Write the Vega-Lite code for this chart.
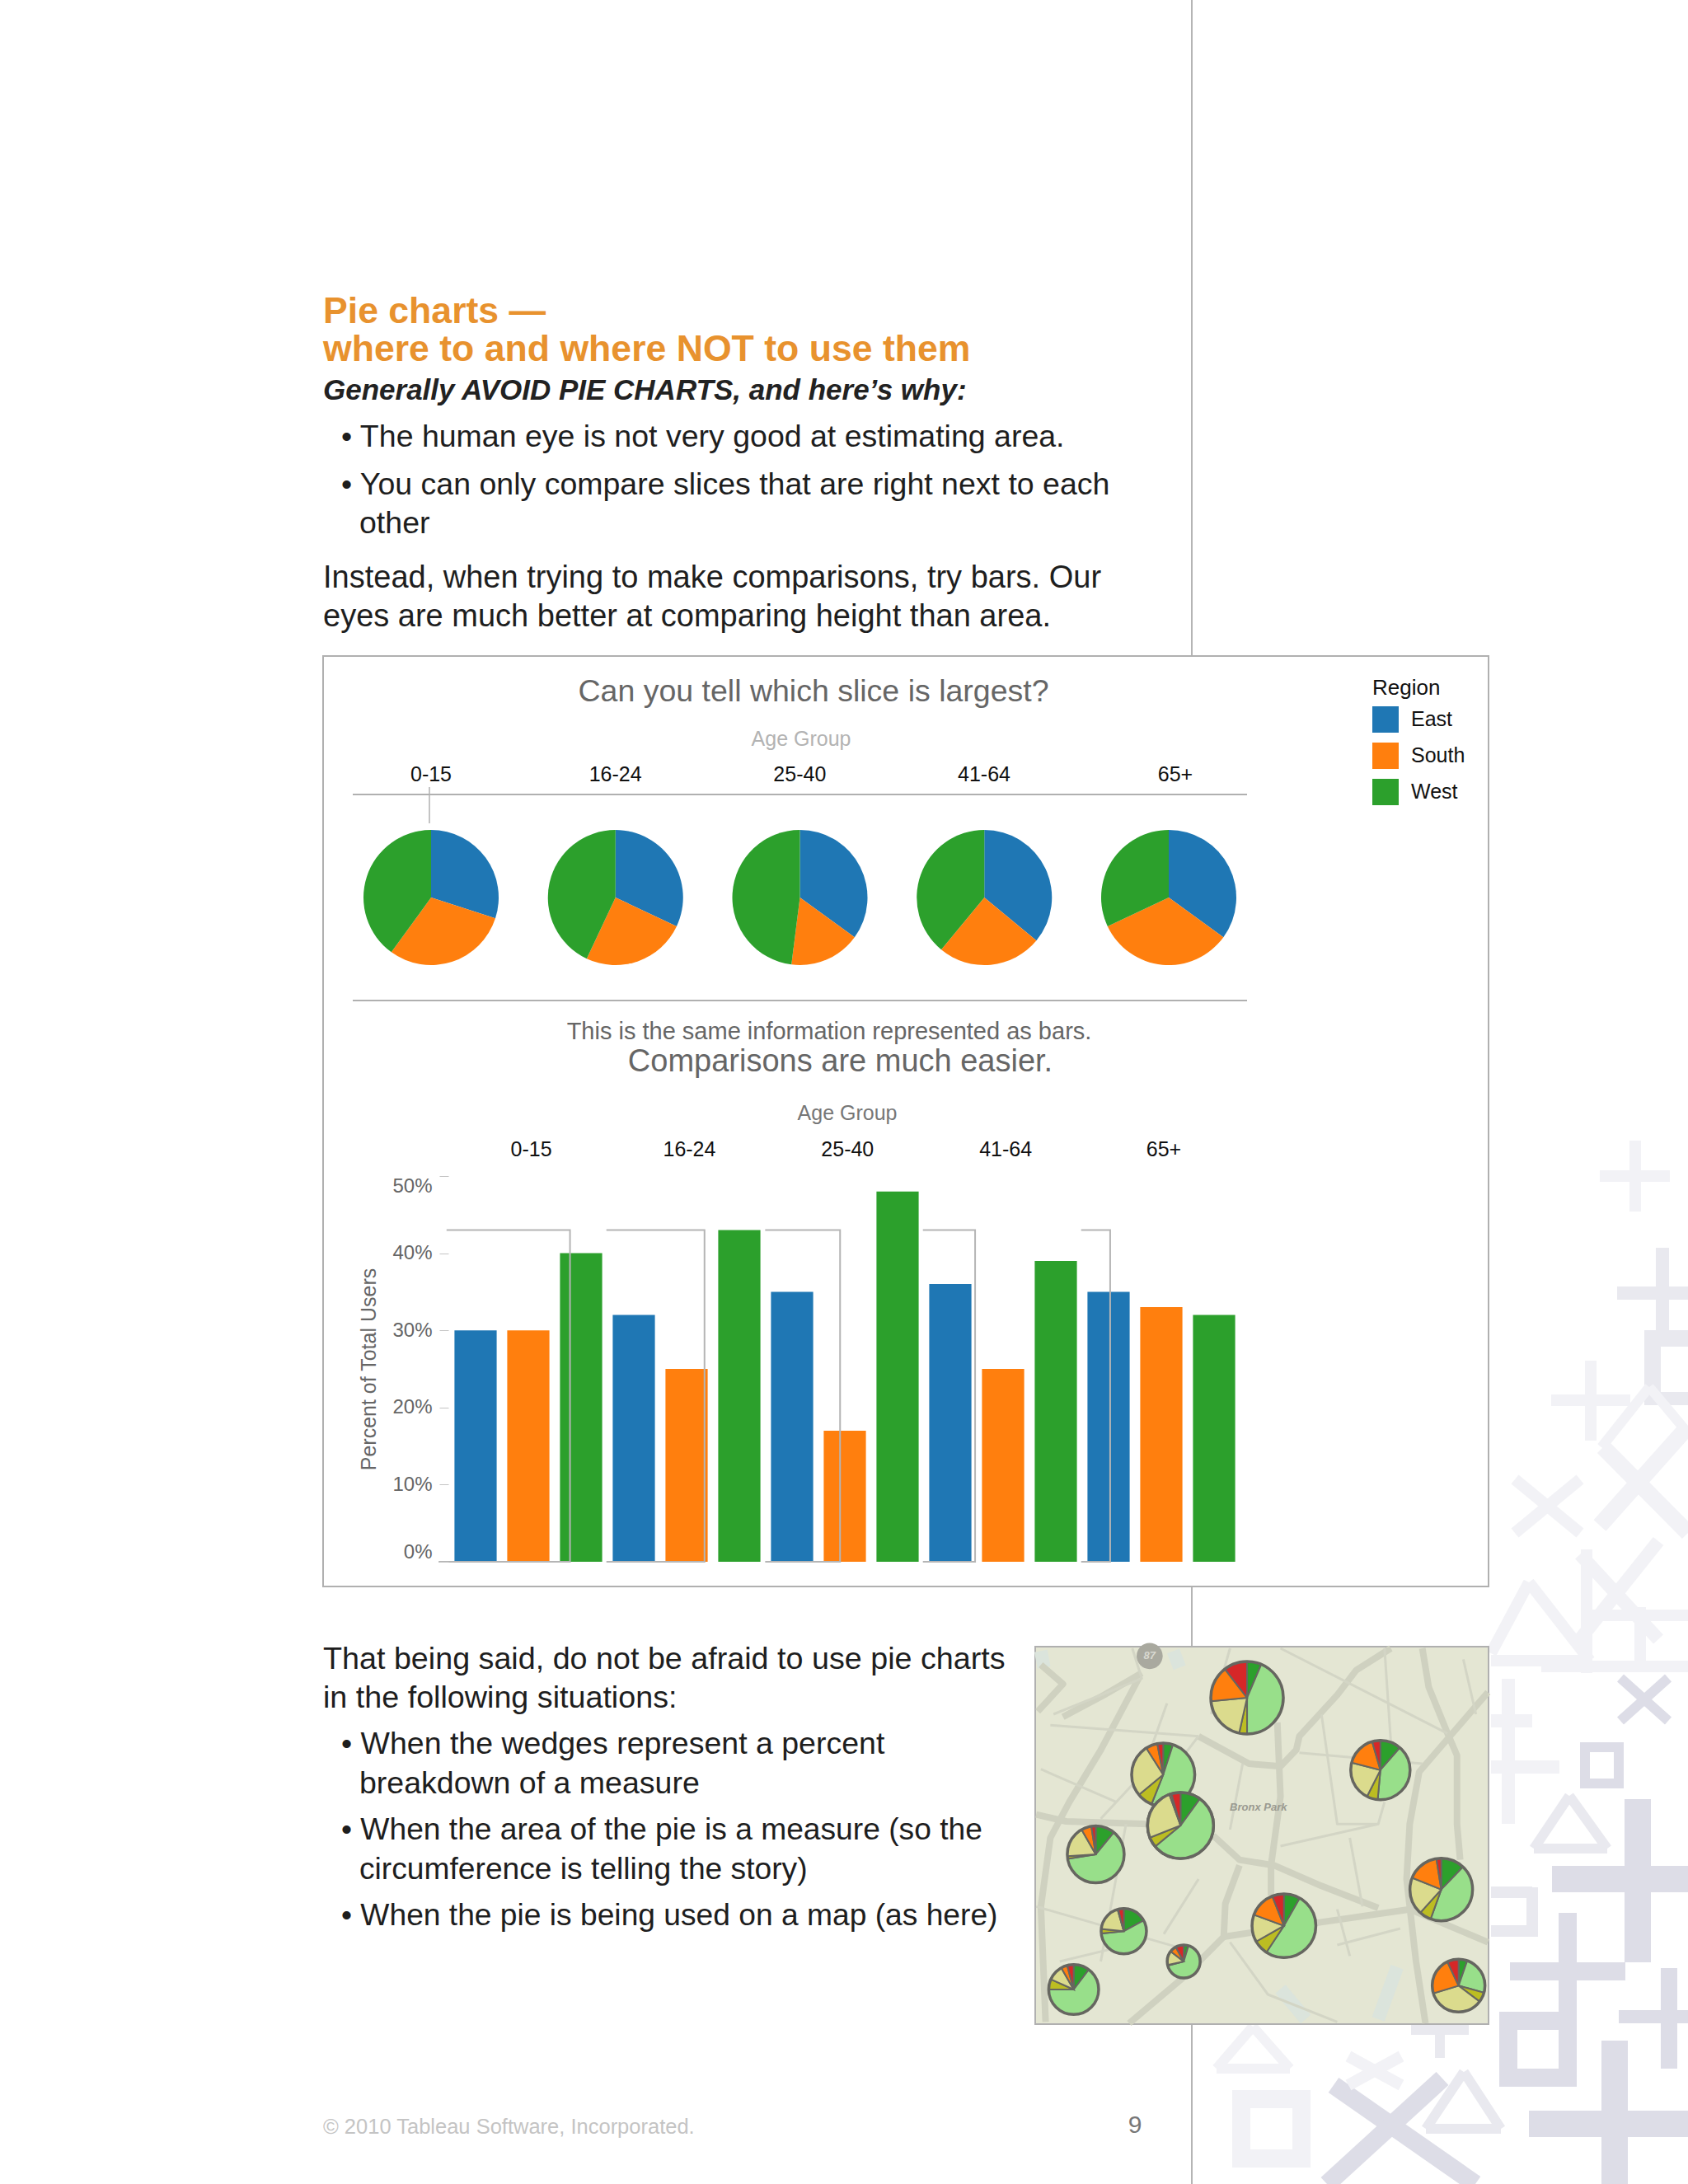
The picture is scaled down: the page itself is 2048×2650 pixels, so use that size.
{
"$schema":"https://vega.github.io/schema/vega-lite/v6.json",
"width":2048,"height":2650,"padding":0,"autosize":{"type":"none"},"background":"white",
"config":{"view":{"stroke":null},"font":"Liberation Sans"},
"resolve":{"scale":{"x":"independent","y":"independent","color":"independent","theta":"independent","radius":"independent","size":"independent","strokeWidth":"independent"},"axis":{"x":"independent","y":"independent"},"legend":{"color":"independent","size":"independent","strokeWidth":"independent"}},
"datasets":{
"users":[
{"slot":1,"age":"0-15","region":"East","pct":30},{"slot":2,"age":"0-15","region":"South","pct":30},{"slot":3,"age":"0-15","region":"West","pct":40},
{"slot":4,"age":"16-24","region":"East","pct":32},{"slot":5,"age":"16-24","region":"South","pct":25},{"slot":6,"age":"16-24","region":"West","pct":43},
{"slot":7,"age":"25-40","region":"East","pct":35},{"slot":8,"age":"25-40","region":"South","pct":17},{"slot":9,"age":"25-40","region":"West","pct":48},
{"slot":10,"age":"41-64","region":"East","pct":36},{"slot":11,"age":"41-64","region":"South","pct":25},{"slot":12,"age":"41-64","region":"West","pct":39},
{"slot":13,"age":"65+","region":"East","pct":35},{"slot":14,"age":"65+","region":"South","pct":33},{"slot":15,"age":"65+","region":"West","pct":32}],
"ages":[{"age":"0-15"},{"age":"16-24"},{"age":"25-40"},{"age":"41-64"},{"age":"65+"}],
"prose":[
{"para":"heading","line":1,"indent":"flush","text":"Pie charts —"},
{"para":"heading","line":2,"indent":"flush","text":"where to and where NOT to use them"},
{"para":"sub","line":1,"indent":"flush","text":"Generally AVOID PIE CHARTS, and here’s why:"},
{"para":"b1","line":1,"indent":"bullet","text":"• The human eye is not very good at estimating area."},
{"para":"b2","line":1,"indent":"bullet","text":"• You can only compare slices that are right next to each"},
{"para":"b2","line":2,"indent":"hang","text":"other"},
{"para":"p1","line":1,"indent":"flush","text":"Instead, when trying to make comparisons, try bars. Our"},
{"para":"p1","line":2,"indent":"flush","text":"eyes are much better at comparing height than area."},
{"para":"p2","line":1,"indent":"flush","text":"That being said, do not be afraid to use pie charts"},
{"para":"p2","line":2,"indent":"flush","text":"in the following situations:"},
{"para":"b3","line":1,"indent":"bullet","text":"• When the wedges represent a percent"},
{"para":"b3","line":2,"indent":"hang","text":"breakdown of a measure"},
{"para":"b4","line":1,"indent":"bullet","text":"• When the area of the pie is a measure (so the"},
{"para":"b4","line":2,"indent":"hang","text":"circumference is telling the story)"},
{"para":"b5","line":1,"indent":"bullet","text":"• When the pie is being used on a map (as here)"},
{"para":"foot","line":1,"indent":"flush","text":"© 2010 Tableau Software, Incorporated."}],
"brackets":[
{"age":"0-15","step":1,"slotPos":-0.05,"pct":43},{"age":"0-15","step":2,"slotPos":2.29,"pct":43},{"age":"0-15","step":3,"slotPos":2.29,"pct":0},{"age":"0-15","step":4,"slotPos":-0.2,"pct":0},
{"age":"16-24","step":1,"slotPos":2.98,"pct":43},{"age":"16-24","step":2,"slotPos":4.84,"pct":43},{"age":"16-24","step":3,"slotPos":4.84,"pct":0},{"age":"16-24","step":4,"slotPos":2.98,"pct":0},
{"age":"25-40","step":1,"slotPos":5.99,"pct":43},{"age":"25-40","step":2,"slotPos":7.41,"pct":43},{"age":"25-40","step":3,"slotPos":7.41,"pct":0},{"age":"25-40","step":4,"slotPos":5.99,"pct":0},
{"age":"41-64","step":1,"slotPos":8.98,"pct":43},{"age":"41-64","step":2,"slotPos":9.97,"pct":43},{"age":"41-64","step":3,"slotPos":9.97,"pct":0},{"age":"41-64","step":4,"slotPos":8.98,"pct":0},
{"age":"65+","step":1,"slotPos":11.98,"pct":43},{"age":"65+","step":2,"slotPos":12.53,"pct":43},{"age":"65+","step":3,"slotPos":12.53,"pct":0},{"age":"65+","step":4,"slotPos":11.98,"pct":0}],
"sites":[
{"site":1,"mx":714,"my":240,"users":1936},{"site":2,"mx":448,"my":520,"users":1467},{"site":3,"mx":503,"my":705,"users":1600},{"site":4,"mx":1137,"my":503,"users":1296},
{"site":5,"mx":234,"my":810,"users":1190},{"site":6,"mx":1330,"my":938,"users":1444},{"site":7,"mx":831,"my":1070,"users":1498},{"site":8,"mx":323,"my":1090,"users":756},
{"site":9,"mx":513,"my":1200,"users":400},{"site":10,"mx":164,"my":1302,"users":918},{"site":11,"mx":1385,"my":1288,"users":1024}],
"wedges":[
{"site":1,"wedge":"w1","share":6.4},{"site":1,"wedge":"w2","share":43.6},{"site":1,"wedge":"w3","share":3.5},{"site":1,"wedge":"w4","share":20},{"site":1,"wedge":"w5","share":16},{"site":1,"wedge":"w6","share":10.5},
{"site":2,"wedge":"w1","share":5},{"site":2,"wedge":"w2","share":51},{"site":2,"wedge":"w3","share":8},{"site":2,"wedge":"w4","share":27},{"site":2,"wedge":"w5","share":6},{"site":2,"wedge":"w6","share":3},
{"site":3,"wedge":"w1","share":10},{"site":3,"wedge":"w2","share":54},{"site":3,"wedge":"w3","share":5},{"site":3,"wedge":"w4","share":25.5},{"site":3,"wedge":"w5","share":1},{"site":3,"wedge":"w6","share":4.5},
{"site":4,"wedge":"w1","share":11.4},{"site":4,"wedge":"w2","share":40},{"site":4,"wedge":"w3","share":6},{"site":4,"wedge":"w4","share":21.5},{"site":4,"wedge":"w5","share":16.5},{"site":4,"wedge":"w6","share":4.5},
{"site":5,"wedge":"w1","share":11},{"site":5,"wedge":"w2","share":61.5},{"site":5,"wedge":"w3","share":1.5},{"site":5,"wedge":"w4","share":17.7},{"site":5,"wedge":"w5","share":5.8},{"site":5,"wedge":"w6","share":2.5},
{"site":6,"wedge":"w1","share":12.2},{"site":6,"wedge":"w2","share":43.3},{"site":6,"wedge":"w3","share":6.2},{"site":6,"wedge":"w4","share":19.4},{"site":6,"wedge":"w5","share":16.4},{"site":6,"wedge":"w6","share":2.5},
{"site":7,"wedge":"w1","share":8.3},{"site":7,"wedge":"w2","share":51},{"site":7,"wedge":"w3","share":7.5},{"site":7,"wedge":"w4","share":13.8},{"site":7,"wedge":"w5","share":13.4},{"site":7,"wedge":"w6","share":6},
{"site":8,"wedge":"w1","share":17},{"site":8,"wedge":"w2","share":56.4},{"site":8,"wedge":"w3","share":3.2},{"site":8,"wedge":"w4","share":19},{"site":8,"wedge":"w5","share":0.4},{"site":8,"wedge":"w6","share":4},
{"site":9,"wedge":"w1","share":4.7},{"site":9,"wedge":"w2","share":66.3},{"site":9,"wedge":"w3","share":0.7},{"site":9,"wedge":"w4","share":13.8},{"site":9,"wedge":"w5","share":6.5},{"site":9,"wedge":"w6","share":8},
{"site":10,"wedge":"w1","share":10.3},{"site":10,"wedge":"w2","share":64.7},{"site":10,"wedge":"w3","share":6.7},{"site":10,"wedge":"w4","share":10},{"site":10,"wedge":"w5","share":4.1},{"site":10,"wedge":"w6","share":4.2},
{"site":11,"wedge":"w1","share":5.3},{"site":11,"wedge":"w2","share":24},{"site":11,"wedge":"w3","share":6},{"site":11,"wedge":"w4","share":35},{"site":11,"wedge":"w5","share":22.7},{"site":11,"wedge":"w6","share":7}],
"roads":[
{"road":"w1","kind":"water","step":1,"mx":60,"my":70},{"road":"w1","kind":"water","step":2,"mx":70,"my":130},
{"road":"w2","kind":"water","step":1,"mx":820,"my":1300},{"road":"w2","kind":"water","step":2,"mx":900,"my":1410},
{"road":"w3","kind":"water","step":1,"mx":1190,"my":1220},{"road":"w3","kind":"water","step":2,"mx":1130,"my":1410},
{"road":"w4","kind":"water","step":1,"mx":480,"my":70},{"road":"w4","kind":"water","step":2,"mx":500,"my":130},
{"road":"r1","kind":"major","step":1,"mx":45,"my":665},{"road":"r1","kind":"major","step":2,"mx":140,"my":690},{"road":"r1","kind":"major","step":3,"mx":400,"my":700},{"road":"r1","kind":"major","step":4,"mx":610,"my":745},{"road":"r1","kind":"major","step":5,"mx":690,"my":830},{"road":"r1","kind":"major","step":6,"mx":800,"my":850},{"road":"r1","kind":"major","step":7,"mx":950,"my":925},{"road":"r1","kind":"major","step":8,"mx":1130,"my":1005},
{"road":"r2","kind":"major","step":1,"mx":640,"my":1110},{"road":"r2","kind":"major","step":2,"mx":930,"my":1060},{"road":"r2","kind":"major","step":3,"mx":1230,"my":1010},{"road":"r2","kind":"major","step":4,"mx":1478,"my":1130},
{"road":"r3","kind":"major","step":1,"mx":510,"my":1260},{"road":"r3","kind":"major","step":2,"mx":640,"my":1110},{"road":"r3","kind":"major","step":3,"mx":645,"my":990},{"road":"r3","kind":"major","step":4,"mx":690,"my":850},
{"road":"r4","kind":"major","step":1,"mx":810,"my":330},{"road":"r4","kind":"major","step":2,"mx":820,"my":600},{"road":"r4","kind":"major","step":3,"mx":790,"my":850},{"road":"r4","kind":"major","step":4,"mx":790,"my":960},
{"road":"r5","kind":"major","step":1,"mx":60,"my":1000},{"road":"r5","kind":"major","step":2,"mx":90,"my":750},{"road":"r5","kind":"major","step":3,"mx":150,"my":620},{"road":"r5","kind":"major","step":4,"mx":250,"my":430},{"road":"r5","kind":"major","step":5,"mx":370,"my":170},
{"road":"r6","kind":"major","step":1,"mx":60,"my":1000},{"road":"r6","kind":"major","step":2,"mx":75,"my":1420},
{"road":"r7","kind":"major","step":1,"mx":560,"my":380},{"road":"r7","kind":"major","step":2,"mx":720,"my":480},{"road":"r7","kind":"major","step":3,"mx":820,"my":490},{"road":"r7","kind":"major","step":4,"mx":870,"my":430},{"road":"r7","kind":"major","step":5,"mx":880,"my":380},{"road":"r7","kind":"major","step":6,"mx":1000,"my":230},{"road":"r7","kind":"major","step":7,"mx":1060,"my":140},{"road":"r7","kind":"major","step":8,"mx":1170,"my":60},
{"road":"r8","kind":"major","step":1,"mx":1270,"my":60},{"road":"r8","kind":"major","step":2,"mx":1290,"my":200},{"road":"r8","kind":"major","step":3,"mx":1350,"my":370},{"road":"r8","kind":"major","step":4,"mx":1380,"my":450},{"road":"r8","kind":"major","step":5,"mx":1380,"my":700},{"road":"r8","kind":"major","step":6,"mx":1390,"my":830},
{"road":"r9","kind":"major","step":1,"mx":1478,"my":220},{"road":"r9","kind":"major","step":2,"mx":1350,"my":390},{"road":"r9","kind":"major","step":3,"mx":1260,"my":510},{"road":"r9","kind":"major","step":4,"mx":1230,"my":700},{"road":"r9","kind":"major","step":5,"mx":1220,"my":900},{"road":"r9","kind":"major","step":6,"mx":1250,"my":1200},{"road":"r9","kind":"major","step":7,"mx":1280,"my":1425},
{"road":"r10","kind":"major","step":1,"mx":510,"my":1260},{"road":"r10","kind":"major","step":2,"mx":340,"my":1425},
{"road":"r11","kind":"major","step":1,"mx":50,"my":290},{"road":"r11","kind":"major","step":2,"mx":130,"my":190},{"road":"r11","kind":"major","step":3,"mx":60,"my":120},
{"road":"r12","kind":"major","step":1,"mx":130,"my":310},{"road":"r12","kind":"major","step":2,"mx":260,"my":230},{"road":"r12","kind":"major","step":3,"mx":380,"my":150},
{"road":"m1","kind":"minor","step":1,"mx":100,"my":300},{"road":"m1","kind":"minor","step":2,"mx":380,"my":170},{"road":"m1","kind":"minor","step":3,"mx":350,"my":60},
{"road":"m2","kind":"minor","step":1,"mx":560,"my":380},{"road":"m2","kind":"minor","step":2,"mx":480,"my":500},{"road":"m2","kind":"minor","step":3,"mx":400,"my":720},
{"road":"m3","kind":"minor","step":1,"mx":90,"my":340},{"road":"m3","kind":"minor","step":2,"mx":560,"my":380},
{"road":"m4","kind":"minor","step":1,"mx":880,"my":440},{"road":"m4","kind":"minor","step":2,"mx":1270,"my":480},
{"road":"m5","kind":"minor","step":1,"mx":820,"my":780},{"road":"m5","kind":"minor","step":2,"mx":1130,"my":700},{"road":"m5","kind":"minor","step":3,"mx":1150,"my":620},
{"road":"m6","kind":"minor","step":1,"mx":950,"my":300},{"road":"m6","kind":"minor","step":2,"mx":1000,"my":700},{"road":"m6","kind":"minor","step":3,"mx":1130,"my":700},
{"road":"m7","kind":"minor","step":1,"mx":1040,"my":750},{"road":"m7","kind":"minor","step":2,"mx":1080,"my":1000},
{"road":"m8","kind":"minor","step":1,"mx":700,"my":480},{"road":"m8","kind":"minor","step":2,"mx":660,"my":720},
{"road":"m9","kind":"minor","step":1,"mx":45,"my":1000},{"road":"m9","kind":"minor","step":2,"mx":500,"my":1150},
{"road":"m10","kind":"minor","step":1,"mx":250,"my":1200},{"road":"m10","kind":"minor","step":2,"mx":330,"my":700},
{"road":"m11","kind":"minor","step":1,"mx":820,"my":60},{"road":"m11","kind":"minor","step":2,"mx":1350,"my":370},
{"road":"m12","kind":"minor","step":1,"mx":660,"my":1130},{"road":"m12","kind":"minor","step":2,"mx":780,"my":1320},{"road":"m12","kind":"minor","step":3,"mx":1000,"my":1420},
{"road":"m13","kind":"minor","step":1,"mx":1150,"my":60},{"road":"m13","kind":"minor","step":2,"mx":1170,"my":400},
{"road":"m14","kind":"minor","step":1,"mx":460,"my":260},{"road":"m14","kind":"minor","step":2,"mx":380,"my":520},{"road":"m14","kind":"minor","step":3,"mx":250,"my":680},
{"road":"m15","kind":"minor","step":1,"mx":660,"my":60},{"road":"m15","kind":"minor","step":2,"mx":600,"my":300},
{"road":"m16","kind":"minor","step":1,"mx":60,"my":500},{"road":"m16","kind":"minor","step":2,"mx":300,"my":620},
{"road":"m17","kind":"minor","step":1,"mx":1000,"my":1140},{"road":"m17","kind":"minor","step":2,"mx":1200,"my":1080},
{"road":"m18","kind":"minor","step":1,"mx":300,"my":1150},{"road":"m18","kind":"minor","step":2,"mx":120,"my":1200},
{"road":"m19","kind":"minor","step":1,"mx":1040,"my":1180},{"road":"m19","kind":"minor","step":2,"mx":1000,"my":1010},
{"road":"m20","kind":"minor","step":1,"mx":560,"my":900},{"road":"m20","kind":"minor","step":2,"mx":450,"my":1100},
{"road":"m21","kind":"minor","step":1,"mx":1400,"my":100},{"road":"m21","kind":"minor","step":2,"mx":1440,"my":300}],
"decor":[
{"x":1941,"y":1427,"x2":2026,"y2":1427,"w":"b","s":"pale"},{"x":1984,"y":1384,"x2":1984,"y2":1470,"w":"b","s":"pale"},
{"x":1962,"y":1569,"x2":2048,"y2":1569,"w":"c","s":"soft"},{"x":2017,"y":1514,"x2":2017,"y2":1620,"w":"c","s":"soft"},
{"x":2005,"y":1614,"x2":2005,"y2":1705,"w":"d","s":"soft"},{"x":1995,"y":1624,"x2":2048,"y2":1624,"w":"d","s":"soft"},{"x":1995,"y":1697,"x2":2048,"y2":1697,"w":"c","s":"soft"},
{"x":1882,"y":1699,"x2":1978,"y2":1699,"w":"b","s":"pale"},{"x":1930,"y":1651,"x2":1930,"y2":1748,"w":"b","s":"pale"},
{"x":2001,"y":1683,"x2":1943,"y2":1756,"w":"a","s":"pale"},{"x":2001,"y":1683,"x2":2048,"y2":1739,"w":"a","s":"pale"},
{"x":1941,"y":1851,"x2":2048,"y2":1731,"w":"d","s":"pale"},{"x":1945,"y":1756,"x2":2048,"y2":1860,"w":"d","s":"pale"},
{"x":1838,"y":1795,"x2":1917,"y2":1860,"w":"b","s":"pale"},{"x":1838,"y":1860,"x2":1917,"y2":1795,"w":"b","s":"pale"},
{"x":1917,"y":1886,"x2":2012,"y2":1989,"w":"c","s":"pale"},{"x":1917,"y":1989,"x2":2012,"y2":1870,"w":"c","s":"pale"},
{"x":1855,"y":1920,"x2":1809,"y2":2006,"w":"b","s":"pale"},{"x":1855,"y":1920,"x2":1929,"y2":2015,"w":"b","s":"pale"},{"x":1809,"y":2015,"x2":1929,"y2":2015,"w":"b","s":"pale"},
{"x":1925,"y":1880,"x2":1925,"y2":2030,"w":"b","s":"pale"},{"x":1990,"y":1950,"x2":1990,"y2":2020,"w":"b","s":"pale"},{"x":1925,"y":1960,"x2":2048,"y2":1960,"w":"b","s":"pale"},{"x":1870,"y":2022,"x2":2048,"y2":2022,"w":"b","s":"pale"},
{"x":1809,"y":2088,"x2":1859,"y2":2088,"w":"c","s":"pale"},{"x":1830,"y":2037,"x2":1830,"y2":2213,"w":"c","s":"pale"},{"x":1809,"y":2144,"x2":1892,"y2":2144,"w":"c","s":"pale"},
{"x":1809,"y":2296,"x2":1859,"y2":2296,"w":"b","s":"soft"},{"x":1859,"y":2290,"x2":1859,"y2":2350,"w":"b","s":"soft"},{"x":1809,"y":2343,"x2":1859,"y2":2343,"w":"b","s":"soft"},
{"x":1966,"y":2036,"x2":2024,"y2":2088,"w":"a","s":"mid"},{"x":1966,"y":2088,"x2":2024,"y2":2036,"w":"a","s":"mid"},
{"x":1923,"y":2114,"x2":1923,"y2":2170,"w":"a","s":"mid"},{"x":1964,"y":2114,"x2":1964,"y2":2170,"w":"a","s":"mid"},{"x":1917,"y":2120,"x2":1970,"y2":2120,"w":"a","s":"mid"},{"x":1917,"y":2164,"x2":1970,"y2":2164,"w":"a","s":"mid"},
{"x":1904,"y":2179,"x2":1861,"y2":2243,"w":"a","s":"soft"},{"x":1904,"y":2179,"x2":1950,"y2":2243,"w":"a","s":"soft"},{"x":1861,"y":2243,"x2":1950,"y2":2243,"w":"a","s":"soft"},
{"x":1883,"y":2280,"x2":2048,"y2":2280,"w":"f","s":"mid"},{"x":1987,"y":2183,"x2":1987,"y2":2381,"w":"f","s":"mid"},
{"x":1832,"y":2392,"x2":1972,"y2":2392,"w":"e","s":"mid"},{"x":1902,"y":2321,"x2":1902,"y2":2532,"w":"e","s":"mid"},
{"x":1830,"y":2441,"x2":1830,"y2":2532,"w":"e","s":"mid"},{"x":1819,"y":2452,"x2":1912,"y2":2452,"w":"e","s":"mid"},{"x":1819,"y":2521,"x2":1912,"y2":2521,"w":"e","s":"mid"},
{"x":1964,"y":2447,"x2":2048,"y2":2447,"w":"c","s":"mid"},{"x":2025,"y":2388,"x2":2025,"y2":2510,"w":"d","s":"mid"},
{"x":1855,"y":2577,"x2":2048,"y2":2577,"w":"f","s":"mid"},{"x":1959,"y":2476,"x2":1959,"y2":2650,"w":"f","s":"mid"},
{"x":1618,"y":2530,"x2":1790,"y2":2650,"w":"e","s":"mid"},{"x":1750,"y":2522,"x2":1610,"y2":2650,"w":"e","s":"mid"},
{"x":1506,"y":2536,"x2":1506,"y2":2630,"w":"e","s":"pale"},{"x":1579,"y":2536,"x2":1579,"y2":2630,"w":"e","s":"pale"},{"x":1495,"y":2547,"x2":1590,"y2":2547,"w":"e","s":"pale"},{"x":1495,"y":2619,"x2":1590,"y2":2619,"w":"e","s":"pale"},
{"x":1520,"y":2459,"x2":1476,"y2":2510,"w":"a","s":"pale"},{"x":1520,"y":2459,"x2":1565,"y2":2510,"w":"a","s":"pale"},{"x":1476,"y":2510,"x2":1565,"y2":2510,"w":"a","s":"pale"},
{"x":1776,"y":2514,"x2":1730,"y2":2583,"w":"a","s":"soft"},{"x":1776,"y":2514,"x2":1821,"y2":2583,"w":"a","s":"soft"},{"x":1730,"y":2583,"x2":1821,"y2":2583,"w":"a","s":"soft"},
{"x":1712,"y":2463,"x2":1782,"y2":2463,"w":"a","s":"soft"},{"x":1747,"y":2458,"x2":1747,"y2":2497,"w":"a","s":"soft"},
{"x":1636,"y":2495,"x2":1700,"y2":2530,"w":"b","s":"pale"},{"x":1636,"y":2530,"x2":1700,"y2":2495,"w":"b","s":"pale"}]
},
"layer":[
{"data":{"name":"decor"},"mark":{"type":"rule","strokeCap":"butt"},"encoding":{
"x":{"field":"x","type":"quantitative","scale":{"domain":[0,2048],"range":[0,2048],"nice":false,"zero":false},"axis":null},"x2":{"field":"x2"},
"y":{"field":"y","type":"quantitative","scale":{"domain":[0,2650],"range":[0,2650],"nice":false,"zero":false},"axis":null},"y2":{"field":"y2"},
"strokeWidth":{"field":"w","type":"nominal","scale":{"type":"ordinal","domain":["a","b","c","d","e","f"],"range":[12,14,16,20,22,32]},"legend":null},
"color":{"field":"s","type":"nominal","scale":{"domain":["pale","soft","mid"],"range":["#f2f2f6","#e9e9ef","#dddde7"]},"legend":null}}},
{"data":{"values":[{"guide":"gutter"}]},"mark":{"type":"rule","color":"#b5b5b5","strokeWidth":2},"encoding":{"x":{"field":"guide","type":"nominal","scale":{"type":"point","padding":0,"range":[1446,1446]},"axis":null}}},
{"data":{"values":[{"panel":"chart"}]},"mark":{"type":"rect","fill":"white","stroke":"#b0b0b0","strokeWidth":2},"encoding":{
"x":{"datum":0,"type":"quantitative","scale":{"domain":[0,1],"range":[392,1806]},"axis":null},"x2":{"datum":1},
"y":{"datum":0,"type":"quantitative","scale":{"domain":[0,1],"range":[796,1925]},"axis":null},"y2":{"datum":1}}},
{"data":{"values":[{"edge":"top"},{"edge":"bottom"}]},"mark":{"type":"rule","color":"#b0b0b0","strokeWidth":2},"encoding":{
"y":{"field":"edge","type":"nominal","sort":["top","bottom"],"scale":{"type":"point","padding":0,"range":[964,1214]},"axis":null},
"x":{"datum":0,"type":"quantitative","scale":{"domain":[0,1],"range":[428,1513]},"axis":null},"x2":{"datum":1}}},
{"data":{"values":[{"guide":"stub"}]},"mark":{"type":"rule","color":"#b0b0b0","strokeWidth":1.5},"encoding":{
"x":{"field":"guide","type":"nominal","scale":{"type":"point","padding":0,"range":[521,521]},"axis":null},
"y":{"datum":0,"type":"quantitative","scale":{"domain":[0,1],"range":[955,999]},"axis":null},"y2":{"datum":1}}},
{"data":{"name":"users"},"transform":[{"stack":"pct","groupby":["age"],"sort":[{"field":"region","order":"ascending"}],"offset":"normalize","as":["t0","t1"]}],
"mark":{"type":"arc","radius":82},"encoding":{
"x":{"field":"age","type":"nominal","scale":{"type":"point","padding":0,"domain":["0-15","16-24","25-40","41-64","65+"],"range":[523,1418]},"axis":null},
"y":{"datum":"pies","type":"nominal","scale":{"type":"point","padding":0,"range":[1089,1089]},"axis":null},
"theta":{"field":"t0","type":"quantitative","scale":{"domain":[0,1],"range":[0,6.2832]}},"theta2":{"field":"t1"},
"color":{"field":"region","type":"nominal","scale":{"domain":["East","South","West"],"range":["#1f77b4","#ff7f0e","#2ca02c"]},
"legend":{"orient":"none","legendX":1665,"legendY":822,"title":"Region","titleFontSize":26,"titleFontWeight":"normal","titleColor":"#111","titleFont":"Liberation Sans","titlePadding":9,"labelFontSize":25,"labelColor":"#111","labelFont":"Liberation Sans","labelOffset":15,"symbolType":"square","symbolSize":1024,"symbolStrokeWidth":0,"symbolOpacity":1,"rowPadding":12}}}},
{"data":{"name":"ages"},"transform":[{"filter":"datum.age!=='65+'"}],"mark":{"type":"text","fontSize":25,"color":"#111"},"encoding":{
"x":{"field":"age","type":"nominal","scale":{"type":"point","padding":0,"range":[523,1194]},"axis":null},
"y":{"datum":"row","type":"nominal","scale":{"type":"point","padding":0,"range":[940,940]},"axis":null},"text":{"field":"age"}}},
{"data":{"name":"ages"},"transform":[{"filter":"datum.age==='65+'"}],"mark":{"type":"text","fontSize":25,"color":"#111"},"encoding":{
"x":{"field":"age","type":"nominal","scale":{"type":"point","padding":0,"range":[1426,1426]},"axis":null},
"y":{"datum":"row","type":"nominal","scale":{"type":"point","padding":0,"range":[940,940]},"axis":null},"text":{"field":"age"}}},
{"data":{"name":"ages"},"mark":{"type":"text","fontSize":25,"color":"#111"},"encoding":{
"x":{"field":"age","type":"nominal","scale":{"type":"point","padding":0,"range":[644.6,1412]},"axis":null},
"y":{"datum":"row","type":"nominal","scale":{"type":"point","padding":0,"range":[1395,1395]},"axis":null},"text":{"field":"age"}}},
{"data":{"values":[{"t":"Can you tell which slice is largest?"}]},"mark":{"type":"text","fontSize":37.5,"color":"#666666"},"encoding":{"x":{"field":"t","type":"nominal","scale":{"type":"point","padding":0,"range":[987,987]},"axis":null},"y":{"field":"t","type":"nominal","scale":{"type":"point","padding":0,"range":[840,840]},"axis":null},"text":{"field":"t"}}},
{"data":{"values":[{"t":"Age Group"}]},"mark":{"type":"text","fontSize":25,"color":"#b3b3b3"},"encoding":{"x":{"field":"t","type":"nominal","scale":{"type":"point","padding":0,"range":[972,972]},"axis":null},"y":{"field":"t","type":"nominal","scale":{"type":"point","padding":0,"range":[897,897]},"axis":null},"text":{"field":"t"}}},
{"data":{"values":[{"t":"This is the same information represented as bars."}]},"mark":{"type":"text","fontSize":29,"color":"#666666"},"encoding":{"x":{"field":"t","type":"nominal","scale":{"type":"point","padding":0,"range":[1006,1006]},"axis":null},"y":{"field":"t","type":"nominal","scale":{"type":"point","padding":0,"range":[1252,1252]},"axis":null},"text":{"field":"t"}}},
{"data":{"values":[{"t":"Comparisons are much easier."}]},"mark":{"type":"text","fontSize":38,"color":"#666666"},"encoding":{"x":{"field":"t","type":"nominal","scale":{"type":"point","padding":0,"range":[1019.5,1019.5]},"axis":null},"y":{"field":"t","type":"nominal","scale":{"type":"point","padding":0,"range":[1289,1289]},"axis":null},"text":{"field":"t"}}},
{"data":{"values":[{"t":"Age Group"}]},"mark":{"type":"text","fontSize":25,"color":"#777777"},"encoding":{"x":{"field":"t","type":"nominal","scale":{"type":"point","padding":0,"range":[1028,1028]},"axis":null},"y":{"field":"t","type":"nominal","scale":{"type":"point","padding":0,"range":[1351,1351]},"axis":null},"text":{"field":"t"}}},
{"data":{"name":"users"},"mark":{"type":"bar"},"encoding":{
"x":{"field":"slot","type":"ordinal","scale":{"type":"band","range":[545,1505],"paddingInner":0.2,"paddingOuter":0.1},"axis":null},
"y":{"field":"pct","type":"quantitative","scale":{"domain":[0,50],"range":[1895,1427],"nice":false},
"axis":{"orient":"left","offset":-544,"zindex":1,"values":[0,10,20,30,40,50],"labelExpr":"datum.value+'%'","labelFlush":true,"grid":false,"domain":false,"tickColor":"#c4c4c4","tickSize":11,"labelPadding":9,"labelColor":"#666666","labelFontSize":24,"labelFont":"Liberation Sans","title":"Percent of Total Users","titleColor":"#666666","titleFontSize":25,"titleFontWeight":"normal","titleFont":"Liberation Sans","titlePadding":15}},
"color":{"field":"region","type":"nominal","scale":{"domain":["East","South","West"],"range":["#1f77b4","#ff7f0e","#2ca02c"]},"legend":null}}},
{"data":{"name":"brackets"},"mark":{"type":"line","color":"#b5b5b5","strokeWidth":2},"encoding":{
"x":{"field":"slotPos","type":"quantitative","scale":{"domain":[0,15],"range":[545,1505],"nice":false,"zero":false},"axis":null},
"y":{"field":"pct","type":"quantitative","scale":{"domain":[0,50],"range":[1895,1427],"nice":false},"axis":null},
"detail":{"field":"age"},"order":{"field":"step"}}},
{"data":{"values":[{"panel":"map"}]},"mark":{"type":"rect","fill":"#e4e6d3","stroke":"#b0b0b0","strokeWidth":2},"encoding":{
"x":{"datum":42,"type":"quantitative","scale":{"domain":[42,1480],"range":[1256,1806],"nice":false,"zero":false},"axis":null},"x2":{"datum":1480},
"y":{"datum":54,"type":"quantitative","scale":{"domain":[54,1428],"range":[1998,2456],"nice":false,"zero":false},"axis":null},"y2":{"datum":1428}}},
{"data":{"name":"roads"},"mark":{"type":"line","strokeCap":"butt","strokeJoin":"round"},"encoding":{
"x":{"field":"mx","type":"quantitative","scale":{"domain":[42,1480],"range":[1256,1806],"nice":false,"zero":false},"axis":null},
"y":{"field":"my","type":"quantitative","scale":{"domain":[54,1428],"range":[1998,2456],"nice":false,"zero":false},"axis":null},
"detail":{"field":"road"},"order":{"field":"step"},
"strokeWidth":{"field":"kind","type":"nominal","scale":{"type":"ordinal","domain":["water","major","minor"],"range":[16,8,3]},"legend":null},
"color":{"field":"kind","type":"nominal","scale":{"domain":["water","major","minor"],"range":["#dbe4dc","#cfd1c0","#d3d5c5"]},"legend":null}}},
{"data":{"values":[{"mx":405,"my":88,"t":"87"}]},"mark":{"type":"point","filled":true,"color":"#a9a99f","opacity":1,"size":1000},"encoding":{
"x":{"field":"mx","type":"quantitative","scale":{"domain":[42,1480],"range":[1256,1806],"nice":false,"zero":false},"axis":null},
"y":{"field":"my","type":"quantitative","scale":{"domain":[54,1428],"range":[1998,2456],"nice":false,"zero":false},"axis":null}}},
{"data":{"values":[{"mx":405,"my":86,"t":"87"},{"mx":750,"my":640,"t":"Bronx Park"}]},"mark":{"type":"text","fontSize":13,"fontStyle":"italic","fontWeight":"bold"},"encoding":{
"x":{"field":"mx","type":"quantitative","scale":{"domain":[42,1480],"range":[1256,1806],"nice":false,"zero":false},"axis":null},
"y":{"field":"my","type":"quantitative","scale":{"domain":[54,1428],"range":[1998,2456],"nice":false,"zero":false},"axis":null},
"text":{"field":"t"},"color":{"field":"t","type":"nominal","scale":{"domain":["87","Bronx Park"],"range":["#d8d8d0","#9a9a90"]},"legend":null}}},
{"data":{"name":"wedges"},"transform":[{"lookup":"site","from":{"data":{"name":"sites"},"key":"site","fields":["mx","my","users"]}},{"stack":"share","groupby":["site"],"sort":[{"field":"wedge","order":"ascending"}],"offset":"normalize","as":["t0","t1"]}],
"mark":{"type":"arc","stroke":"#666660","strokeWidth":2},"encoding":{
"x":{"field":"mx","type":"quantitative","scale":{"domain":[42,1480],"range":[1256,1806],"nice":false,"zero":false},"axis":null},
"y":{"field":"my","type":"quantitative","scale":{"domain":[54,1428],"range":[1998,2456],"nice":false,"zero":false},"axis":null},
"theta":{"field":"t0","type":"quantitative","scale":{"domain":[0,1],"range":[0,6.2832]}},"theta2":{"field":"t1"},
"radius":{"field":"users","type":"quantitative","scale":{"type":"sqrt","domain":[0,1936],"range":[0,44]}},
"color":{"field":"wedge","type":"nominal","scale":{"domain":["w1","w2","w3","w4","w5","w6"],"range":["#2ca02c","#98df8a","#bcbd22","#dbdb8d","#ff7f0e","#d62728"]},"legend":null}}},
{"data":{"name":"sites"},"mark":{"type":"point","filled":false,"stroke":"#666660","strokeWidth":3.5,"opacity":1},"encoding":{
"x":{"field":"mx","type":"quantitative","scale":{"domain":[42,1480],"range":[1256,1806],"nice":false,"zero":false},"axis":null},
"y":{"field":"my","type":"quantitative","scale":{"domain":[54,1428],"range":[1998,2456],"nice":false,"zero":false},"axis":null},
"size":{"field":"users","type":"quantitative","scale":{"domain":[0,1936],"range":[0,7744]},"legend":null}}},
{"data":{"name":"wedges"},"transform":[{"lookup":"site","from":{"data":{"name":"sites"},"key":"site","fields":["mx","my","users"]}},{"stack":"share","groupby":["site"],"sort":[{"field":"wedge","order":"ascending"}],"offset":"normalize","as":["t0","t1"]},{"filter":"datum.site===3"}],
"mark":{"type":"arc","stroke":"#666660","strokeWidth":2},"encoding":{
"x":{"field":"mx","type":"quantitative","scale":{"domain":[42,1480],"range":[1256,1806],"nice":false,"zero":false},"axis":null},
"y":{"field":"my","type":"quantitative","scale":{"domain":[54,1428],"range":[1998,2456],"nice":false,"zero":false},"axis":null},
"theta":{"field":"t0","type":"quantitative","scale":{"domain":[0,1],"range":[0,6.2832]}},"theta2":{"field":"t1"},
"radius":{"field":"users","type":"quantitative","scale":{"type":"sqrt","domain":[0,1936],"range":[0,44]}},
"color":{"field":"wedge","type":"nominal","scale":{"domain":["w1","w2","w3","w4","w5","w6"],"range":["#2ca02c","#98df8a","#bcbd22","#dbdb8d","#ff7f0e","#d62728"]},"legend":null}}},
{"data":{"name":"sites"},"transform":[{"filter":"datum.site===3"}],"mark":{"type":"point","filled":false,"stroke":"#666660","strokeWidth":3.5,"opacity":1},"encoding":{
"x":{"field":"mx","type":"quantitative","scale":{"domain":[42,1480],"range":[1256,1806],"nice":false,"zero":false},"axis":null},
"y":{"field":"my","type":"quantitative","scale":{"domain":[54,1428],"range":[1998,2456],"nice":false,"zero":false},"axis":null},
"size":{"field":"users","type":"quantitative","scale":{"domain":[0,1936],"range":[0,7744]},"legend":null}}},
{"data":{"name":"prose"},"transform":[{"filter":"datum.para==='heading'"}],"mark":{"type":"text","align":"left","baseline":"alphabetic","fontSize":44.6,"fontWeight":"bold","color":"#e8922e"},"encoding":{"x":{"field":"indent","type":"nominal","scale":{"type":"point","padding":0,"domain":["flush","bullet","hang"],"range":[392,436]},"axis":null},"y":{"field":"line","type":"ordinal","scale":{"type":"point","padding":0,"range":[392,438]},"axis":null},"text":{"field":"text"}}},
{"data":{"name":"prose"},"transform":[{"filter":"datum.para==='sub'"}],"mark":{"type":"text","align":"left","baseline":"alphabetic","fontSize":35,"fontWeight":"bold","fontStyle":"italic","color":"#222222"},"encoding":{"x":{"field":"indent","type":"nominal","scale":{"type":"point","padding":0,"domain":["flush","bullet","hang"],"range":[392,436]},"axis":null},"y":{"field":"line","type":"ordinal","scale":{"type":"point","padding":0,"range":[485,485]},"axis":null},"text":{"field":"text"}}},
{"data":{"name":"prose"},"transform":[{"filter":"datum.para==='b1'"}],"mark":{"type":"text","align":"left","baseline":"alphabetic","fontSize":37.5,"color":"#1e1e1e"},"encoding":{"x":{"field":"indent","type":"nominal","scale":{"type":"point","padding":0,"domain":["flush","bullet","hang"],"range":[392,436]},"axis":null},"y":{"field":"line","type":"ordinal","scale":{"type":"point","padding":0,"range":[542,542]},"axis":null},"text":{"field":"text"}}},
{"data":{"name":"prose"},"transform":[{"filter":"datum.para==='b2'"}],"mark":{"type":"text","align":"left","baseline":"alphabetic","fontSize":37.5,"color":"#1e1e1e"},"encoding":{"x":{"field":"indent","type":"nominal","scale":{"type":"point","padding":0,"domain":["flush","bullet","hang"],"range":[392,436]},"axis":null},"y":{"field":"line","type":"ordinal","scale":{"type":"point","padding":0,"range":[600,647]},"axis":null},"text":{"field":"text"}}},
{"data":{"name":"prose"},"transform":[{"filter":"datum.para==='p1'"}],"mark":{"type":"text","align":"left","baseline":"alphabetic","fontSize":38,"color":"#1e1e1e"},"encoding":{"x":{"field":"indent","type":"nominal","scale":{"type":"point","padding":0,"domain":["flush","bullet","hang"],"range":[392,436]},"axis":null},"y":{"field":"line","type":"ordinal","scale":{"type":"point","padding":0,"range":[713,760]},"axis":null},"text":{"field":"text"}}},
{"data":{"name":"prose"},"transform":[{"filter":"datum.para==='p2'"}],"mark":{"type":"text","align":"left","baseline":"alphabetic","fontSize":37.7,"color":"#1e1e1e"},"encoding":{"x":{"field":"indent","type":"nominal","scale":{"type":"point","padding":0,"domain":["flush","bullet","hang"],"range":[392,436]},"axis":null},"y":{"field":"line","type":"ordinal","scale":{"type":"point","padding":0,"range":[2025,2072]},"axis":null},"text":{"field":"text"}}},
{"data":{"name":"prose"},"transform":[{"filter":"datum.para==='b3'"}],"mark":{"type":"text","align":"left","baseline":"alphabetic","fontSize":37.5,"color":"#1e1e1e"},"encoding":{"x":{"field":"indent","type":"nominal","scale":{"type":"point","padding":0,"domain":["flush","bullet","hang"],"range":[392,436]},"axis":null},"y":{"field":"line","type":"ordinal","scale":{"type":"point","padding":0,"range":[2128,2175.5]},"axis":null},"text":{"field":"text"}}},
{"data":{"name":"prose"},"transform":[{"filter":"datum.para==='b4'"}],"mark":{"type":"text","align":"left","baseline":"alphabetic","fontSize":37.2,"color":"#1e1e1e"},"encoding":{"x":{"field":"indent","type":"nominal","scale":{"type":"point","padding":0,"domain":["flush","bullet","hang"],"range":[392,436]},"axis":null},"y":{"field":"line","type":"ordinal","scale":{"type":"point","padding":0,"range":[2232,2279.6]},"axis":null},"text":{"field":"text"}}},
{"data":{"name":"prose"},"transform":[{"filter":"datum.para==='b5'"}],"mark":{"type":"text","align":"left","baseline":"alphabetic","fontSize":37.2,"color":"#1e1e1e"},"encoding":{"x":{"field":"indent","type":"nominal","scale":{"type":"point","padding":0,"domain":["flush","bullet","hang"],"range":[392,436]},"axis":null},"y":{"field":"line","type":"ordinal","scale":{"type":"point","padding":0,"range":[2336,2336]},"axis":null},"text":{"field":"text"}}},
{"data":{"name":"prose"},"transform":[{"filter":"datum.para==='foot'"}],"mark":{"type":"text","align":"left","baseline":"alphabetic","fontSize":25.5,"color":"#c4c4c4"},"encoding":{"x":{"field":"indent","type":"nominal","scale":{"type":"point","padding":0,"domain":["flush","bullet","hang"],"range":[392,436]},"axis":null},"y":{"field":"line","type":"ordinal","scale":{"type":"point","padding":0,"range":[2589,2589]},"axis":null},"text":{"field":"text"}}},
{"data":{"values":[{"t":"9"}]},"mark":{"type":"text","baseline":"alphabetic","fontSize":30,"color":"#777777"},"encoding":{"x":{"field":"t","type":"nominal","scale":{"type":"point","padding":0,"range":[1377,1377]},"axis":null},"y":{"field":"t","type":"nominal","scale":{"type":"point","padding":0,"range":[2588,2588]},"axis":null},"text":{"field":"t"}}}
]
}
